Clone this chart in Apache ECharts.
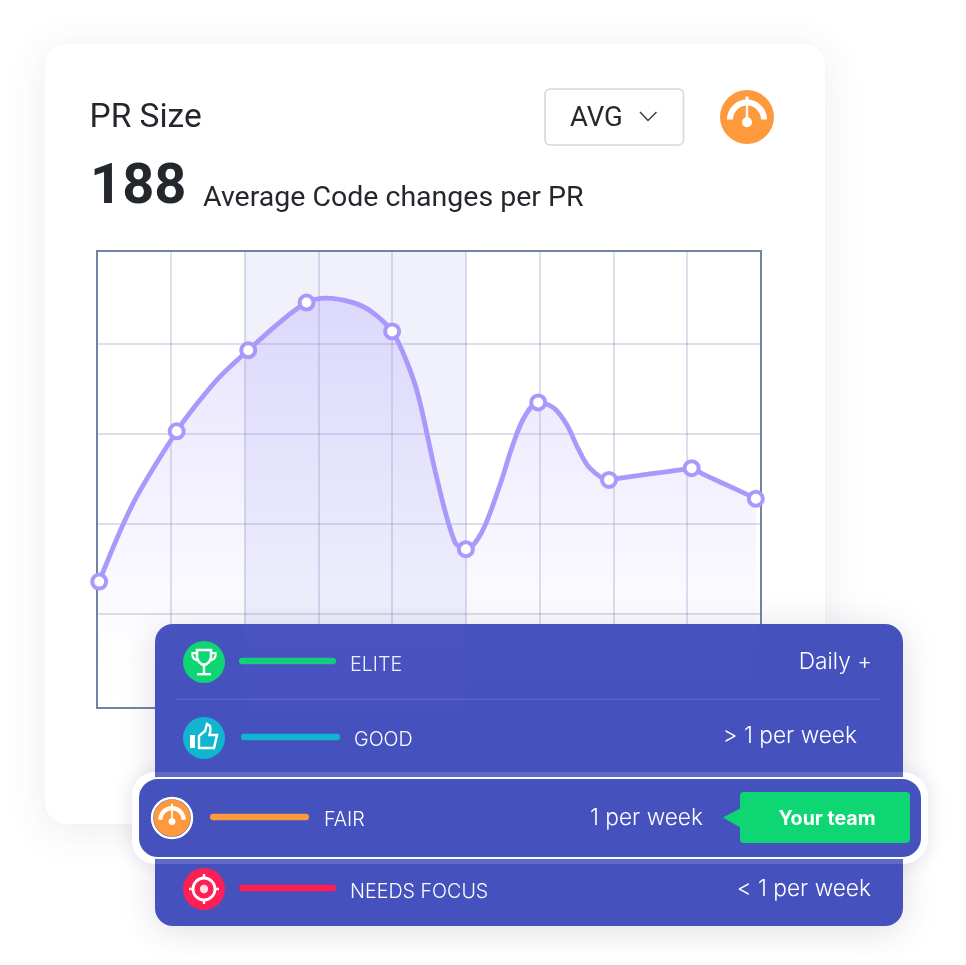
<!DOCTYPE html>
<html><head><meta charset="utf-8">
<style>
html,body{margin:0;padding:0;background:#fff;width:966px;height:965px;overflow:hidden}
#card{position:absolute;left:45px;top:44px;width:780px;height:780px;border-radius:22px;background:#fff;box-shadow:0 6px 40px rgba(70,70,120,.10)}
#chart{position:absolute;left:0;top:0;width:966px;height:965px}
</style>
<script src="https://cdn.jsdelivr.net/npm/echarts@6/dist/echarts.min.js"></script>
</head><body><div id="card"></div><div id="chart"></div>
<script>
const titleText = 'PR Size';
const selectText = 'AVG';
const bigValue = '188';
const subtitle = 'Average Code changes per PR';
const markerX = [0.03, 1.08, 2.05, 2.84, 4.0, 5.0, 5.98, 6.94, 8.06, 8.93];
const markerY = [1.36, 3.03, 3.93, 4.46, 4.14, 1.72, 3.35, 2.49, 2.62, 2.28];
const curveX = [0.03, 0.49, 1.08, 1.35, 1.67, 2.05, 2.46, 2.84, 3.1, 3.47, 3.72, 4.0, 4.2, 4.36, 4.6, 4.85, 5.0, 5.21, 5.46, 5.62, 5.78, 5.98, 6.19, 6.37, 6.52, 6.68, 6.94, 7.09, 7.52, 7.9, 8.06, 8.2, 8.49, 8.78, 8.93];
const curveY = [1.36, 2.23, 3.03, 3.33, 3.64, 3.93, 4.23, 4.46, 4.51, 4.46, 4.36, 4.14, 3.8, 3.41, 2.53, 1.8, 1.72, 1.9, 2.43, 2.84, 3.17, 3.35, 3.29, 3.1, 2.84, 2.62, 2.49, 2.51, 2.56, 2.6, 2.62, 2.56, 2.45, 2.34, 2.28];
const yTicks = [1, 2, 3, 4];
const bandRange = [2, 5];
const tierNames = ['ELITE', 'GOOD', 'FAIR', 'NEEDS FOCUS'];
const tierFreqs = ['Daily +', '> 1 per week', '1 per week', '< 1 per week'];
const tierColors = ['#0dd673', '#12b5d0', '#ff9a3c', '#ff1f55'];
const teamLabel = 'Your team';

const INK = '#24272c', W = '#ffffff';
const BODY = 'Inter, "Noto Sans", sans-serif', HEAD = 'Roboto, sans-serif';
const txt = (x, y, text, size, fill, family, weight, align) => ({
  type: 'text', x, y,
  style: { text, fontSize: size, fill, fontFamily: family, fontWeight: weight || 400, align: align || 'left', verticalAlign: 'middle' }
});
const rr = (x, y, w, h, r, style) => ({ type: 'rect', shape: { x, y, width: w, height: h, r }, style });
const circ = (cx, cy, r, style) => ({ type: 'circle', shape: { cx, cy, r }, style });
const stroke = (c, w) => ({ fill: 'none', stroke: c, lineWidth: w, lineCap: 'butt' });
const poly = (points, style) => ({ type: 'polygon', shape: { points }, style });
const pline = (points, style) => ({ type: 'polyline', shape: { points }, style });

function gauge(cx, cy, r) {
  const k = r / 27;
  return { type: 'group', x: cx, y: cy, children: [
    circ(0, 0, r, { fill: tierColors[2] }),
    { type: 'arc', shape: { cx: 0, cy: 2.6 * k, r: 17 * k, startAngle: Math.PI, endAngle: 2 * Math.PI, clockwise: true }, style: stroke(W, 6 * k) },
    rr(-1.5 * k, -20.5 * k, 3 * k, 6 * k, 0, { fill: W }),
    rr(-1.2 * k, -13 * k, 2.4 * k, 15 * k, 0, { fill: W }),
    circ(0, 5.2 * k, 5 * k, { fill: W })
  ] };
}
function trophy(cx, cy) {
  return { type: 'group', x: cx, y: cy, children: [
    circ(0, 0, 21, { fill: tierColors[0] }),
    poly([[-7, -12], [7, -12], [7, -4], [5, 0], [2, 2.5], [-2, 2.5], [-5, 0], [-7, -4]], stroke(W, 2.6)),
    pline([[-7, -9], [-11.5, -9], [-11.5, -6], [-10, -3], [-6.5, -1.5]], stroke(W, 2.2)),
    pline([[7, -9], [11.5, -9], [11.5, -6], [10, -3], [6.5, -1.5]], stroke(W, 2.2)),
    rr(-1.2, 3, 2.4, 9, 0, { fill: W }),
    rr(-7, 11, 14, 2.4, 0, { fill: W })
  ] };
}
function thumb(cx, cy) {
  return { type: 'group', x: cx, y: cy, children: [
    circ(0, 0, 21, { fill: tierColors[1] }),
    rr(-14, -3, 5, 13, 0, { fill: W }),
    poly([[-5, 10], [-5, -2], [1, -7], [3, -14], [6, -12], [6.5, -8], [5.5, -3], [13, -3], [10, 10]], stroke(W, 2.4))
  ] };
}
function target(cx, cy) {
  return { type: 'group', x: cx, y: cy, children: [
    circ(0, 0, 21, { fill: tierColors[3] }),
    circ(0, 0, 11, stroke(W, 2.8)),
    circ(0, 0, 4.2, { fill: W, opacity: 0.85 }),
    rr(-1.2, -15, 2.4, 5, 0, { fill: W }), rr(-1.2, 10, 2.4, 5, 0, { fill: W }),
    rr(-15, -1.2, 5, 2.4, 0, { fill: W }), rr(10, -1.2, 5, 2.4, 0, { fill: W })
  ] };
}
const bar = (x, y, w, c) => rr(x, y - 3.3, w, 6.6, 3.3, { fill: c });

const elements = [
  txt(89.5, 118.5, titleText, 33.5, INK, HEAD),
  txt(90, 189, bigValue, 56, INK, HEAD, 700),
  txt(203, 199, subtitle, 28.5, INK, HEAD),
  rr(545, 89, 138.5, 56, 5, { fill: W, stroke: '#d6d8dc', lineWidth: 1.6 }),
  txt(570, 119, selectText, 27.5, INK, HEAD),
  pline([[640, 112], [648, 120.5], [656.5, 112]], { fill: 'none', stroke: '#3a3d44', lineWidth: 1.5 }),
  gauge(747, 117, 27),

  rr(132, 772, 796, 92, 26, { fill: W, shadowBlur: 22, shadowColor: 'rgba(50,50,90,.12)' }),
  rr(155, 624, 748, 302, 18, { fill: '#4551bd', shadowBlur: 34, shadowColor: 'rgba(50,50,90,.16)', shadowOffsetY: 4 }),
  rr(177, 698.5, 704, 1.4, 0, { fill: '#5a65c4' }),

  trophy(204, 662), bar(239, 661, 97, tierColors[0]),
  txt(350, 665, tierNames[0], 19.7, W, BODY, 300),
  txt(872, 662, tierFreqs[0], 22.7, W, BODY, 300, 'right'),

  thumb(204, 738), bar(241, 737, 99, tierColors[1]),
  txt(354, 740.5, tierNames[1], 19.7, W, BODY, 300),
  txt(857, 736.5, tierFreqs[1], 22.7, W, BODY, 300, 'right'),

  rr(155, 772, 748, 92, 0, { fill: 'rgba(255,255,255,0.14)' }),
  rr(132, 772, 23, 92, [26, 0, 0, 26], { fill: W }),
  rr(903, 772, 25, 92, [0, 26, 26, 0], { fill: W }),
  rr(138, 778, 784, 80, 20, { fill: '#4551bd', stroke: W, lineWidth: 2 }),
  gauge(172, 818, 18.5),
  circ(172, 818, 20, stroke(W, 2.4)),
  bar(210, 817, 99, tierColors[2]),
  txt(324, 820.5, tierNames[2], 19.7, W, BODY, 300),
  txt(703, 818, tierFreqs[2], 22.7, W, BODY, 300, 'right'),
  poly([[723, 817.5], [741, 808], [741, 828]], { fill: '#0dd673' }),
  rr(740, 792, 170, 51, 4, { fill: '#0dd673' }),
  txt(827, 819, teamLabel, 19.6, W, BODY, 700, 'center'),

  target(204, 889), bar(239, 888, 97, tierColors[3]),
  txt(350, 892, tierNames[3], 19.7, W, BODY, 300),
  txt(871, 889, tierFreqs[3], 22.7, W, BODY, 300, 'right')
];

const chart = echarts.init(document.getElementById('chart'), null, { renderer: 'canvas' });
const lineColor = 'rgba(95,100,160,0.28)';
const yMin = -0.0444, yMax = 5.033;
chart.setOption({
  animation: false,
  backgroundColor: 'transparent',
  grid: { left: 97, top: 251, width: 664, height: 457, show: true, borderColor: '#7483a5', borderWidth: 2, backgroundColor: 'transparent' },
  xAxis: { type: 'value', min: 0, max: 9, interval: 1, z: -5,
    axisLine: { show: false }, axisTick: { show: false }, axisLabel: { show: false },
    splitLine: { show: true, showMinLine: false, showMaxLine: false, lineStyle: { color: lineColor, width: 1.5 } } },
  yAxis: { type: 'value', min: yMin, max: yMax, z: -5,
    axisLine: { show: false }, axisLabel: { show: false },
    axisTick: { show: false, customValues: yTicks },
    splitLine: { show: true, lineStyle: { color: lineColor, width: 1.5 } } },
  series: [{
    type: 'line', clip: false, smooth: 0.33,
    data: curveX.map((x, i) => [x, curveY[i]]),
    showSymbol: false, symbol: 'none',
    lineStyle: { color: '#a899fb', width: 4.8 },
    areaStyle: { color: { type: 'linear', x: 0, y: 0, x2: 0, y2: 1, colorStops: [
      { offset: 0, color: 'rgba(168,153,251,0.40)' }, { offset: 0.85, color: 'rgba(168,153,251,0.02)' }, { offset: 1, color: 'rgba(168,153,251,0)' }] } },
    markArea: { silent: true, itemStyle: { color: 'rgba(98,98,225,0.09)' },
      data: [[{ xAxis: bandRange[0], yAxis: yMin }, { xAxis: bandRange[1], yAxis: yMax }]] }
  }, {
    type: 'scatter', clip: false, z: 5, symbol: 'circle', symbolSize: 14,
    data: markerX.map((x, i) => [x, markerY[i]]),
    itemStyle: { color: '#ffffff', borderColor: '#a899fb', borderWidth: 4, opacity: 1 }
  }],
  graphic: { zlevel: 1, z: 100, elements }
});
</script></body></html>
